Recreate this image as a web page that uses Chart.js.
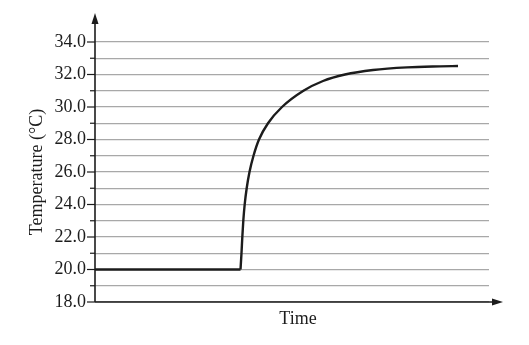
<!DOCTYPE html>
<html>
<head>
<meta charset="utf-8">
<script src="https://cdn.jsdelivr.net/npm/chart.js@4/dist/chart.umd.min.js"></script>
<style>
  html, body { margin: 0; padding: 0; background: #fff; }
  #wrap { width: 529px; height: 345px; }
</style>
</head>
<body>
<div id="wrap"><canvas id="tempChart"></canvas></div>
<script>
// flat part before the rise (time in arbitrary units, 0 = y axis)
const baseTime = [0, 36.93];
const baseTemp = [20.0, 20.0];
// readings taken off the rising curve
const riseTime = [36.93, 37.18, 37.39, 37.64, 37.99, 38.50, 39.21, 40.23, 41.62, 43.91, 47.46, 52.9, 57.87, 63.45, 70.56, 79.19, 87.56, 92.13];
const riseTemp = [20.0, 21.0, 22.0, 23.0, 24.0, 25.0, 26.0, 27.0, 28.0, 29.0, 30.0, 31.0, 31.6, 32.0, 32.28, 32.44, 32.5, 32.52];
const yMin = 18;
const yMax = 34;
const xTitle = 'Time';
const yTitle = 'Temperature (°C)';

const ink = '#1c1c1c';
const serif = 'Liberation Serif';

const toPoints = (xs, ys) => xs.map((t, i) => ({x: t, y: ys[i]}));

// axes with arrow heads, tick marks and the x title
const axesPlugin = {
    id: 'axes',
    afterDraw(chart) {
        const ctx = chart.ctx;
        const area = chart.chartArea;
        const yScale = chart.scales.y;
        const x0 = area.left;
        const y0 = area.bottom;

        ctx.save();
        ctx.strokeStyle = ink;
        ctx.fillStyle = ink;
        ctx.lineWidth = 1.6;

        // y axis
        ctx.beginPath();
        ctx.moveTo(x0, y0);
        ctx.lineTo(x0, 22);
        ctx.stroke();
        ctx.beginPath();
        ctx.moveTo(x0, 13);
        ctx.lineTo(x0 - 3.5, 24);
        ctx.lineTo(x0 + 3.5, 24);
        ctx.closePath();
        ctx.fill();

        // x axis
        ctx.beginPath();
        ctx.moveTo(x0, y0);
        ctx.lineTo(494, y0);
        ctx.stroke();
        ctx.beginPath();
        ctx.moveTo(503, y0);
        ctx.lineTo(492, y0 - 3.5);
        ctx.lineTo(492, y0 + 3.5);
        ctx.closePath();
        ctx.fill();

        // tick marks, longer on the labelled ones
        ctx.lineWidth = 1.2;
        yScale.ticks.forEach(tick => {
            const py = yScale.getPixelForValue(tick.value);
            const len = tick.value % 2 === 0 ? 8 : 5;
            ctx.beginPath();
            ctx.moveTo(x0 - len, py);
            ctx.lineTo(x0, py);
            ctx.stroke();
        });

        ctx.font = '18px "' + serif + '"';
        ctx.textAlign = 'center';
        ctx.textBaseline = 'middle';
        ctx.fillText(xTitle, 298, 319);
        ctx.restore();
    }
};

const lineStyle = {
    borderColor: ink,
    borderWidth: 2.4,
    pointRadius: 0,
    fill: false
};

const ctx = document.getElementById('tempChart').getContext('2d');
new Chart(ctx, {
    type: 'line',
    data: {
        datasets: [
            Object.assign({data: toPoints(baseTime, baseTemp), tension: 0}, lineStyle),
            Object.assign({data: toPoints(riseTime, riseTemp), cubicInterpolationMode: 'monotone'}, lineStyle)
        ]
    },
    options: {
        responsive: true,
        maintainAspectRatio: false,
        animation: false,
        layout: {
            padding: {top: 42, right: 40, bottom: 0, left: 20}
        },
        plugins: {
            legend: {display: false},
            tooltip: {enabled: false}
        },
        scales: {
            x: {
                type: 'linear',
                min: 0,
                max: 100,
                ticks: {display: false},
                grid: {display: false},
                border: {display: false},
                afterFit(scale) { scale.height = 43; }
            },
            y: {
                min: yMin,
                max: yMax,
                ticks: {
                    stepSize: 1,
                    autoSkip: false,
                    padding: 9,
                    color: ink,
                    font: {family: serif, size: 18},
                    callback: v => (v % 2 === 0 ? v.toFixed(1) : '')
                },
                grid: {
                    color: '#a8a8a8',
                    lineWidth: 1.2,
                    drawTicks: false
                },
                border: {display: false},
                title: {
                    display: true,
                    text: yTitle,
                    color: ink,
                    font: {family: serif, size: 18},
                    padding: {top: 6, bottom: 0}
                },
                afterFit(scale) { scale.width = 75; }
            }
        }
    },
    plugins: [axesPlugin]
});
</script>
</body>
</html>
